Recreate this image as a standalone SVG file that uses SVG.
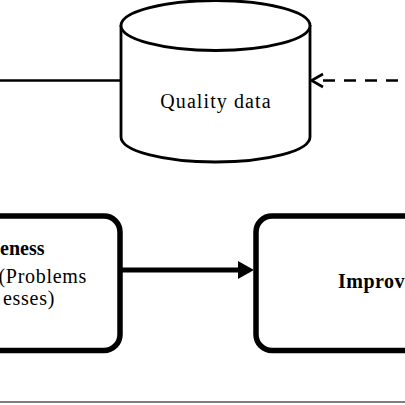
<svg xmlns="http://www.w3.org/2000/svg" width="405" height="405" viewBox="0 0 405 405">
<style>
.thin{fill:none;stroke:#000;stroke-width:2.6}
.box{fill:#fff;stroke:#000;stroke-width:5.5}
.t{font-family:"Liberation Serif","Times New Roman",serif;font-size:20px;fill:#000}
.b{font-weight:bold}
</style>
<rect width="405" height="405" fill="#fff"/>
<g id="connectors">
<line class="thin" x1="0" y1="80.5" x2="121" y2="80.5"/>
<line class="thin" x1="323" y1="80.5" x2="405" y2="80.5" stroke-dasharray="12 9" stroke-width="3"/>
<polyline class="thin" points="323,74 311.5,80.5 323,87"/>
<line x1="122" y1="270" x2="240" y2="270" stroke="#000" stroke-width="5"/>
<polygon points="238,261 254,270 238,279" fill="#000"/>
</g>
<g id="quality-data">
<path d="M121,25 L121,137 A94.5,25 0 0,0 310,137 L310,25" fill="#fff" stroke="#000" stroke-width="2.8"/>
<ellipse cx="215.5" cy="25.5" rx="94.5" ry="25" fill="#fff" stroke="#000" stroke-width="2.8"/>
<text class="t" x="216" y="108" text-anchor="middle" font-size="22" letter-spacing="1.1">Quality data</text>
</g>
<g id="awareness">
<rect class="box" x="-100" y="216" width="220" height="134.5" rx="16"/>
<text class="t b" x="0" y="255" font-size="21.5">eness</text>
<text class="t" x="87" y="283" text-anchor="end" letter-spacing="0.7">(Problems</text>
<text class="t" x="55" y="305" text-anchor="end" letter-spacing="0.7">esses)</text>
</g>
<g id="improvement">
<rect class="box" x="256" y="216" width="250" height="134.5" rx="16"/>
<text class="t b" x="338" y="288" font-size="22" letter-spacing="0.5">Improv</text>
</g>
<line x1="0" y1="402" x2="405" y2="402" stroke="#555" stroke-width="1.6"/>
</svg>
